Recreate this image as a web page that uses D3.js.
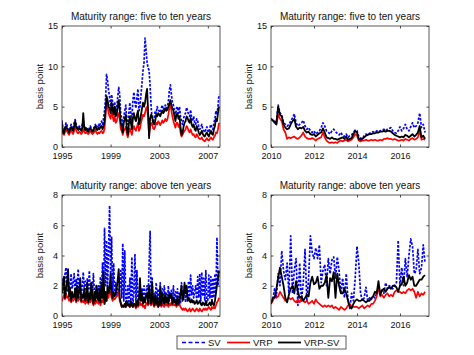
<!DOCTYPE html>
<html><head><meta charset="utf-8">
<script src="https://cdn.jsdelivr.net/npm/d3@7"></script>
<style>
body{margin:0;background:#fff;}
svg{display:block;font-family:"Liberation Sans",Arial,Helvetica,sans-serif;}
</style>
</head><body>
<svg id="chart" width="474" height="355"></svg>
<script>
// ---------- labels ----------
const seriesNames = ["SV", "VRP", "VRP-SV"];
const titleFive = "Maturity range: five to ten years";
const titleAbove = "Maturity range: above ten years";
const yLabel = "basis point";
const leftYearTicks = [1995, 1999, 2003, 2007];
const rightYearTicks = [2010, 2012, 2014, 2016];
const fiveYTicks = [0, 5, 10, 15];
const aboveYTicks = [0, 2, 4, 6, 8];
const leftStartYear = 1995;   // monthly data, Jan 1995 - Dec 2007
const rightStartYear = 2010;  // monthly data, Jan 2010 - Mar 2017

// ---------- five to ten years, 1995-2007 ----------
const fiveEarlySV = [
3.3,2.0,1.8,2.5,3.0,2.7,2.2,2.0,2.4,2.8,2.5,2.2,
3.0,3.4,2.8,2.5,2.3,2.6,2.4,2.2,2.8,3.2,2.6,2.3,
2.5,2.2,2.0,2.4,2.6,2.3,2.0,2.2,2.5,2.8,2.4,2.6,
2.8,2.5,3.0,3.2,2.8,3.5,4.5,6.0,9.0,8.2,7.0,6.2,
5.0,6.5,5.5,4.8,5.6,4.5,4.8,6.2,7.4,6.5,4.0,3.5,
2.5,3.8,4.5,5.2,3.0,2.8,4.2,5.5,4.0,3.2,5.8,6.8,
5.5,4.8,6.2,7.2,4.5,5.0,6.5,8.0,9.5,10.5,13.5,12.0,
10.5,9.8,9.5,7.5,5.0,3.5,3.0,3.5,4.5,4.2,5.0,4.6,
4.5,4.0,4.8,5.2,4.6,4.8,5.2,4.8,5.0,5.6,7.0,7.7,
6.5,5.5,5.2,4.5,3.8,4.8,5.0,4.2,5.0,3.8,3.2,2.8,
3.5,4.0,4.2,4.9,4.5,4.0,3.8,4.6,3.5,3.2,3.8,3.0,
2.8,3.5,3.2,2.6,2.2,2.4,2.8,2.2,2.0,1.8,2.2,2.5,
2.0,1.8,2.4,2.8,2.3,2.2,3.0,3.5,4.5,4.0,5.0,6.5];
const fiveEarlyVRP = [
2.4,1.6,1.5,1.9,2.2,1.9,1.7,1.5,1.8,2.1,1.8,1.6,
2.0,2.6,2.1,1.8,1.7,1.9,1.8,1.6,1.8,2.2,1.9,1.7,
1.9,1.7,1.6,1.8,2.0,1.8,1.6,1.7,1.9,2.1,1.8,1.6,
1.8,1.7,1.9,2.0,1.7,1.8,2.3,3.8,6.0,5.0,4.2,3.8,
3.5,4.5,3.8,3.2,3.8,3.0,3.2,3.8,4.2,3.5,2.2,2.0,
1.5,2.0,2.2,2.5,1.6,1.2,1.8,2.3,1.9,1.5,2.2,2.6,
2.2,2.0,2.5,3.0,2.0,2.3,3.0,3.5,4.0,3.8,4.2,4.8,
5.0,3.5,1.5,2.5,3.0,2.8,2.3,2.2,2.5,3.0,2.8,3.2,
3.0,2.7,3.0,3.3,3.0,3.2,3.5,3.2,3.4,4.0,4.8,5.5,
4.5,3.8,3.2,2.8,2.4,3.0,3.0,2.5,2.8,1.8,1.3,1.5,
1.8,2.0,2.2,2.6,2.4,2.0,1.8,2.2,1.8,1.5,1.6,1.3,
1.2,1.6,1.4,1.1,1.0,1.0,1.2,0.9,0.8,0.7,0.9,1.1,
0.9,0.8,1.0,1.2,1.0,0.9,1.2,1.4,1.8,1.7,2.2,3.0];
const fiveEarlyDiff = [
3.0,1.8,1.7,2.3,2.6,2.3,2.0,1.8,2.2,2.5,2.2,2.0,
2.6,3.2,2.5,2.3,2.1,2.4,2.2,2.0,2.3,4.2,2.4,2.1,
2.3,2.0,1.9,2.2,2.4,2.1,1.9,2.0,2.4,2.6,2.2,2.1,
2.4,2.2,2.5,2.6,2.2,2.6,3.2,4.5,6.3,5.8,5.0,4.8,
4.2,5.5,4.6,4.0,5.0,3.8,4.0,5.0,5.8,4.6,3.0,2.5,
1.8,3.0,3.5,4.0,2.2,1.5,2.8,3.8,3.0,2.2,3.5,4.2,
3.5,3.2,4.0,4.5,2.8,3.2,4.0,4.8,5.5,5.0,5.5,6.5,
7.2,4.5,1.1,3.5,4.0,3.8,3.0,2.8,3.2,4.0,3.8,4.2,
4.0,3.8,4.2,4.5,4.2,4.4,4.8,4.5,4.6,5.0,5.4,5.8,
5.2,4.8,4.5,3.8,3.2,4.0,4.2,3.5,3.8,2.5,1.5,1.8,
2.5,3.0,3.2,3.8,3.6,3.2,3.0,3.6,2.8,2.5,2.8,2.2,
2.0,2.6,2.3,1.8,1.5,1.7,2.0,1.6,1.4,1.3,1.6,1.8,
1.5,1.3,1.7,2.0,1.6,1.5,2.2,2.6,3.5,3.2,4.2,5.0];

// ---------- five to ten years, 2010-2017 ----------
const fiveLateSV = [
3.5,3.3,3.2,3.0,5.2,4.2,4.0,3.0,2.8,2.6,2.8,3.2,
3.6,4.1,3.0,2.6,2.8,3.0,3.3,2.6,2.2,2.4,2.0,1.8,
2.0,1.6,1.8,2.0,2.4,3.0,2.6,2.0,1.8,1.6,2.0,2.2,
1.9,1.7,1.5,1.8,1.4,1.3,1.6,1.2,1.4,1.5,1.8,2.1,
2.0,1.3,1.1,1.0,1.4,1.6,1.5,1.7,1.8,1.9,1.8,2.0,
1.9,2.0,2.1,2.2,2.0,2.2,2.3,2.4,2.0,1.8,1.7,2.0,
2.5,2.0,2.3,2.8,2.2,2.0,2.5,3.0,2.4,2.6,3.0,4.2,
2.4,2.8,1.8];
const fiveLateVRP = [
3.5,3.3,3.0,2.8,4.0,3.5,3.2,2.2,1.8,1.0,1.2,1.1,
1.2,1.3,1.1,1.0,1.2,1.4,1.8,1.3,1.1,1.0,1.0,1.1,
1.0,0.8,1.0,1.1,1.2,1.8,1.2,0.8,0.6,0.5,0.6,0.5,
0.6,0.5,0.7,0.8,0.7,0.8,0.9,0.7,0.8,0.9,1.2,1.6,
1.4,0.8,0.7,0.8,0.8,0.9,0.8,0.8,0.9,0.8,0.9,0.8,
0.8,0.9,0.8,1.0,1.0,1.1,1.0,1.0,0.9,1.0,0.9,0.8,
0.8,0.9,0.8,1.0,0.9,0.8,1.0,1.1,0.9,1.0,1.2,2.0,
0.9,1.0,0.9];
const fiveLateDiff = [
3.5,3.3,3.1,2.8,5.0,4.0,3.8,2.8,2.4,2.2,2.3,2.8,
3.2,3.5,2.5,2.2,2.4,2.3,2.5,2.0,1.8,1.9,1.6,1.5,
1.6,1.3,1.5,1.7,1.8,2.3,1.8,1.2,1.1,1.0,1.2,1.0,
1.0,0.9,1.0,1.1,1.2,1.0,1.3,0.9,1.0,1.1,1.6,2.0,
1.8,1.0,0.9,1.0,1.2,1.4,1.5,1.6,1.6,1.7,1.7,1.8,
1.8,1.9,1.9,2.0,1.9,2.0,2.0,1.9,1.7,1.5,1.4,1.3,
1.2,1.3,1.2,1.5,1.4,1.2,1.4,1.6,1.3,1.5,1.8,2.6,
1.2,1.4,1.0];

// ---------- above ten years, 1995-2007 ----------
const aboveEarlySV = [
1.8,2.5,1.5,2.8,3.2,1.6,2.6,2.0,1.5,2.8,1.8,2.2,
2.8,1.4,2.4,1.8,3.1,1.5,2.2,1.2,2.0,2.9,1.6,2.3,
1.3,2.5,1.8,3.0,1.5,2.2,1.4,2.8,1.6,1.2,2.0,1.5,
2.0,1.2,2.6,1.5,3.5,1.4,5.8,2.0,5.0,1.8,4.5,7.3,
2.5,5.2,1.5,3.5,1.6,2.2,1.3,1.8,1.5,2.0,3.0,1.2,
4.8,1.0,4.3,0.8,1.2,2.0,0.7,2.5,1.0,3.9,0.8,1.5,
4.1,0.9,3.0,1.0,0.7,2.2,1.0,1.8,1.2,2.0,0.8,1.6,
2.0,1.0,3.5,5.6,1.2,2.5,0.8,1.5,1.0,2.2,1.2,1.8,
0.9,2.2,1.2,1.8,0.8,2.0,1.1,1.6,0.9,2.0,1.0,1.5,
1.7,0.8,2.0,1.0,1.6,0.9,1.8,1.0,1.5,0.8,2.2,1.2,
1.0,2.0,0.9,1.8,1.3,2.3,1.0,2.7,1.4,2.0,1.2,1.6,
2.0,1.0,2.6,1.2,2.8,1.0,2.9,1.3,2.5,1.0,3.0,0.9,
1.0,2.7,1.2,2.6,0.9,2.5,1.2,2.8,1.5,5.2,2.0,3.0];
const aboveEarlyVRP = [
1.0,1.2,1.4,1.1,1.5,1.2,1.3,1.0,1.2,0.9,1.1,1.0,
1.1,1.3,0.9,1.2,1.0,1.1,1.3,0.9,1.0,0.9,1.1,0.8,
0.9,1.1,0.8,1.0,0.9,1.2,1.0,0.7,0.9,0.8,1.0,0.9,
0.8,1.0,0.7,1.0,0.9,1.3,0.8,1.2,1.0,1.4,1.2,1.7,
1.5,1.2,1.0,1.2,1.1,1.2,1.3,1.4,1.6,1.0,0.8,0.6,
0.7,0.6,0.8,0.6,0.8,0.7,0.7,0.6,0.8,0.7,0.6,0.7,
0.7,0.5,0.8,0.6,0.7,0.9,0.7,0.8,0.6,0.7,0.5,0.8,
0.9,0.7,1.0,0.8,0.7,1.0,0.8,0.6,0.9,0.7,0.8,0.6,
0.7,0.9,0.6,0.8,0.7,0.6,0.9,0.7,0.8,0.6,0.8,0.7,
0.9,0.7,0.8,0.7,0.8,0.6,0.8,0.7,0.8,0.6,0.5,0.4,
0.5,0.4,0.5,0.4,0.3,0.4,0.5,0.3,0.4,0.5,0.4,0.3,
0.4,0.5,0.4,0.3,0.5,0.4,0.3,0.4,0.5,0.4,0.5,0.4,
0.5,0.6,0.5,0.4,0.6,0.5,0.6,0.5,0.7,0.9,1.0,1.2];
const aboveEarlyDiff = [
1.5,2.2,2.6,1.2,1.8,2.2,3.1,1.3,1.8,1.0,1.6,1.2,
1.3,1.8,1.0,2.0,1.2,1.6,2.5,1.0,1.4,1.2,1.8,1.0,
1.2,2.2,0.9,1.5,1.1,2.2,1.3,0.8,1.6,1.0,2.0,1.2,
1.0,1.8,0.9,2.2,1.2,2.9,0.8,1.6,1.0,2.0,1.5,1.8,
2.8,1.4,1.2,1.6,1.3,1.5,1.8,2.4,3.1,1.2,0.9,0.6,
0.7,0.6,0.8,0.6,1.0,0.7,0.8,0.6,1.0,0.7,0.6,0.8,
0.8,0.6,1.0,0.7,1.2,2.5,1.0,1.5,0.8,1.2,0.9,1.5,
1.5,0.8,2.0,1.2,0.8,2.2,1.0,0.7,1.4,0.8,1.2,0.6,
0.8,1.9,0.7,1.5,1.0,0.8,1.5,0.9,1.2,0.8,1.5,1.2,
1.5,0.8,1.2,0.9,1.0,0.7,1.3,0.8,1.0,1.5,2.0,1.0,
1.3,2.2,1.5,2.0,1.0,1.2,1.0,0.9,1.1,0.9,1.0,0.8,
0.9,1.0,0.8,0.9,1.0,0.8,0.7,0.9,0.8,0.7,1.0,0.7,
0.7,0.8,0.9,0.7,1.0,0.8,0.7,1.0,1.5,2.0,2.5,3.0];

// ---------- above ten years, 2010-2017 ----------
const aboveLateSV = [
0.9,1.1,1.8,1.3,2.8,2.0,4.3,3.0,2.4,3.5,1.5,5.3,
1.5,3.0,3.8,0.7,3.5,1.0,2.2,4.4,1.0,2.5,5.3,4.2,
3.8,4.5,3.8,4.7,2.2,3.0,3.4,2.0,3.8,2.8,3.7,3.9,
2.5,3.9,3.0,1.5,2.5,1.2,2.8,1.0,0.5,1.5,1.0,2.5,
4.6,3.5,1.5,1.0,1.2,1.9,1.0,1.2,1.1,1.3,1.2,1.5,
2.0,1.5,1.8,1.5,2.2,1.8,2.0,1.9,1.8,2.0,2.2,5.0,
2.0,3.2,2.0,3.8,2.6,4.0,5.1,4.6,2.8,3.0,4.4,2.8,
3.2,4.7,3.5];
const aboveLateVRP = [
0.8,1.0,1.3,1.2,1.3,1.6,1.4,1.2,1.0,1.1,1.2,1.1,
1.2,1.0,0.9,1.1,0.9,1.2,1.0,0.9,1.0,0.8,0.9,1.0,
0.8,1.1,0.9,0.8,0.7,0.6,0.7,0.6,0.7,0.6,0.7,0.5,
0.6,0.5,0.4,0.6,0.5,0.4,0.5,0.7,0.8,0.6,0.6,0.6,
0.6,0.5,0.6,0.7,0.5,0.6,0.7,0.6,0.8,0.8,1.0,1.3,
1.9,1.3,1.4,1.2,1.4,1.5,1.3,1.4,1.3,1.6,1.7,1.6,
1.6,1.5,1.6,1.5,1.7,1.8,1.7,1.8,1.6,1.2,1.6,1.3,
1.5,1.4,1.6];
const aboveLateDiff = [
0.8,1.2,1.2,1.8,2.5,3.2,2.6,2.0,1.2,0.9,1.4,1.8,
2.0,1.5,2.3,1.6,1.2,1.3,1.0,1.2,1.4,1.3,2.2,2.6,
2.1,2.2,2.6,1.8,2.0,2.0,2.2,2.7,1.2,2.5,2.3,2.9,
1.2,2.8,2.0,1.5,1.5,1.8,1.5,1.0,0.6,0.5,0.8,1.0,
1.1,1.0,1.0,1.1,1.0,0.9,1.0,1.0,1.2,1.3,1.6,1.5,
2.3,1.4,1.7,1.8,1.6,1.8,1.9,1.8,2.0,2.0,1.9,1.6,
2.0,2.1,2.6,2.0,2.2,2.7,2.4,2.6,2.0,2.0,2.2,2.4,
2.4,2.6,2.7];

// ---------- drawing ----------
const svg = d3.select("#chart");
const colors = ["#0000ff", "#ff0000", "#000000"];
const dashes = ["2.5,1.5", null, null];
const widths = [1.7, 1.7, 1.8];
const tickFont = "9px", titleFont = "10px";

const panels = [
  {x:62, y:26, title:titleFive, start:leftStartYear, xDom:[1995,2008], yDom:[0,15], xt:leftYearTicks, yt:fiveYTicks, data:[fiveEarlySV, fiveEarlyVRP, fiveEarlyDiff], id:"p0"},
  {x:271, y:26, title:titleFive, start:rightStartYear, xDom:[2010,2017.35], yDom:[0,15], xt:rightYearTicks, yt:fiveYTicks, data:[fiveLateSV, fiveLateVRP, fiveLateDiff], id:"p1"},
  {x:62, y:195, title:titleAbove, start:leftStartYear, xDom:[1995,2008], yDom:[0,8], xt:leftYearTicks, yt:aboveYTicks, data:[aboveEarlySV, aboveEarlyVRP, aboveEarlyDiff], id:"p2"},
  {x:271, y:195, title:titleAbove, start:rightStartYear, xDom:[2010,2017.35], yDom:[0,8], xt:rightYearTicks, yt:aboveYTicks, data:[aboveLateSV, aboveLateVRP, aboveLateDiff], id:"p3"}
];
const W = 158, H = 121, tickLen = 2.5;
const defs = svg.append("defs");

panels.forEach(p => {
  const g = svg.append("g").attr("transform", `translate(${p.x},${p.y})`);
  const xs = d3.scaleLinear().domain(p.xDom).range([0, W]);
  const ys = d3.scaleLinear().domain(p.yDom).range([H, 0]);

  defs.append("clipPath").attr("id", "clip" + p.id)
    .append("rect").attr("x", 0).attr("y", 0).attr("width", W).attr("height", H);

  const lineGen = d3.line()
    .x((d, i) => xs(p.start + i / 12))
    .y(d => ys(d));

  const lg = g.append("g").attr("clip-path", `url(#clip${p.id})`);
  p.data.forEach((arr, k) => {
    lg.append("path").datum(arr)
      .attr("d", lineGen)
      .attr("fill", "none")
      .attr("stroke", colors[k])
      .attr("stroke-width", widths[k])
      .attr("stroke-linejoin", "round")
      .attr("stroke-dasharray", dashes[k]);
  });

  // axes (MATLAB style: inward ticks, mirrored)
  const axB = d3.axisBottom(xs).tickValues(p.xt).tickFormat(d3.format("d")).tickSizeInner(-tickLen).tickSizeOuter(0).tickPadding(6);
  const axT = d3.axisTop(xs).tickValues(p.xt).tickFormat("").tickSizeInner(-tickLen).tickSizeOuter(0);
  const axL = d3.axisLeft(ys).tickValues(p.yt).tickFormat(d3.format("d")).tickSizeInner(-tickLen).tickSizeOuter(0).tickPadding(4);
  const axR = d3.axisRight(ys).tickValues(p.yt).tickFormat("").tickSizeInner(-tickLen).tickSizeOuter(0);

  const styleAxis = sel => {
    sel.selectAll("path.domain").remove();
    sel.selectAll("line").attr("stroke", "#222").attr("stroke-width", 0.8);
    sel.selectAll("text").attr("fill", "#111").style("font-size", tickFont).style("font-family", '"Liberation Sans",Arial,sans-serif');
  };
  g.append("g").attr("transform", `translate(0,${H})`).call(axB).call(styleAxis);
  g.append("g").call(axT).call(styleAxis);
  g.append("g").call(axL).call(styleAxis);
  g.append("g").attr("transform", `translate(${W},0)`).call(axR).call(styleAxis);

  g.append("rect").attr("x", 0).attr("y", 0).attr("width", W).attr("height", H)
    .attr("fill", "none").attr("stroke", "#333").attr("stroke-width", 0.8);

  g.append("text").attr("x", W / 2).attr("y", -6).attr("text-anchor", "middle")
    .style("font-size", titleFont).attr("fill", "#111").text(p.title);

  g.append("text").attr("transform", `translate(${-19},${H / 2}) rotate(-90)`)
    .attr("text-anchor", "middle").style("font-size", "9.5px").attr("fill", "#111").text(yLabel);
});

// legend
const leg = svg.append("g").attr("transform", "translate(177,336)");
leg.append("rect").attr("x", 0).attr("y", 0).attr("width", 169).attr("height", 13)
  .attr("fill", "#fff").attr("stroke", "#333").attr("stroke-width", 0.8);
const legX = [5, 50, 101];
const legLen = 23;
seriesNames.forEach((name, k) => {
  leg.append("line").attr("x1", legX[k]).attr("x2", legX[k] + legLen).attr("y1", 6.5).attr("y2", 6.5)
    .attr("stroke", colors[k]).attr("stroke-width", widths[k]).attr("stroke-dasharray", k === 0 ? "4,2.5" : null);
  leg.append("text").attr("x", legX[k] + legLen + 3).attr("y", 10).style("font-size", "9.5px")
    .attr("fill", "#111").text(name);
});
</script>
</body></html>
